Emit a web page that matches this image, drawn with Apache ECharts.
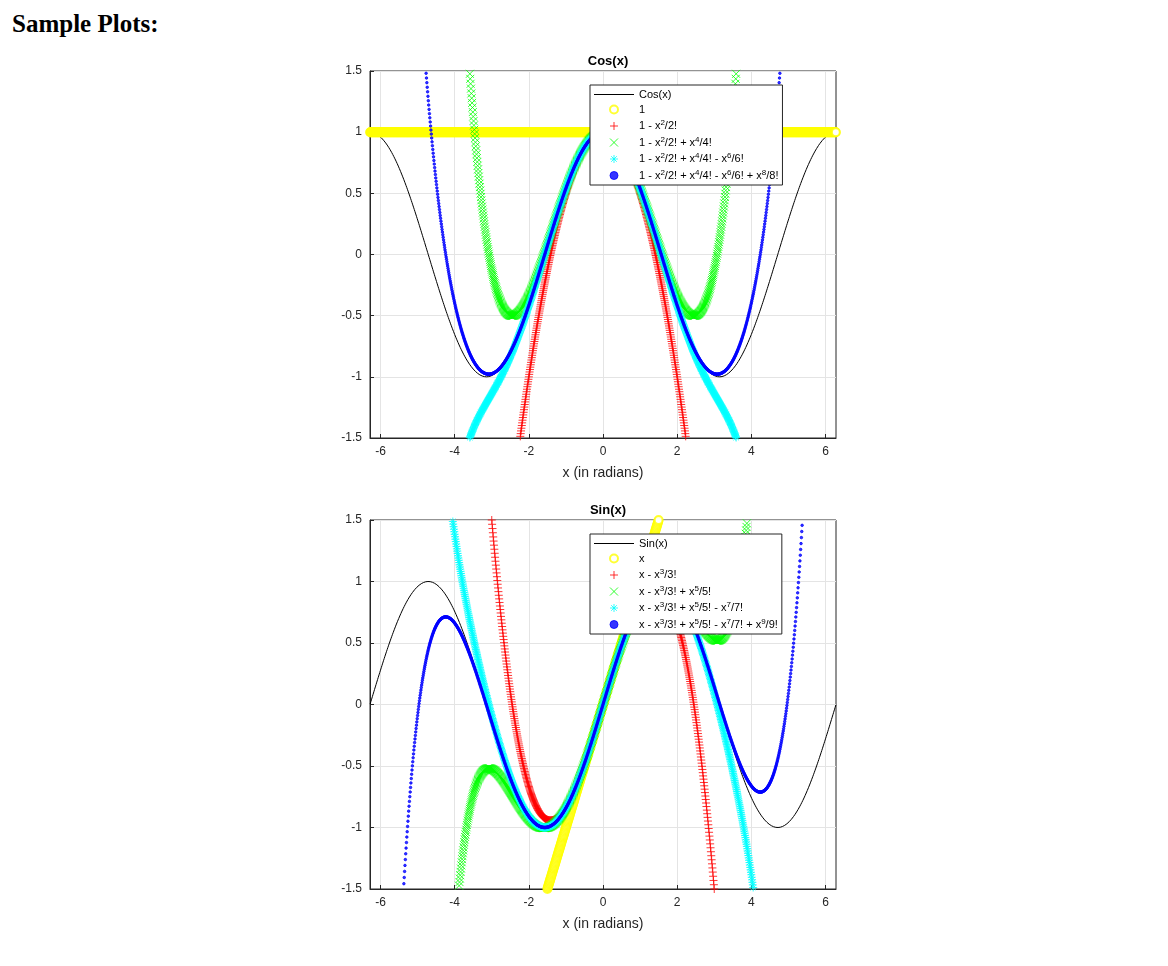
<!DOCTYPE html>
<html><head><meta charset="utf-8">
<script src="https://cdn.jsdelivr.net/npm/echarts@6/dist/echarts.min.js"></script>
<style>body{margin:0;background:#fff}#t{position:absolute;left:12px;top:10px;font:bold 25px "Liberation Serif",serif}#c{width:1168px;height:966px}</style>
</head><body><div id="t">Sample Plots:</div><div id="c"></div>
<script>
const xTicks=[-6,-4,-2,0,2,4,6];
const yTicks=[-1.5,-1,-0.5,0,0.5,1,1.5];
const cosNames=['Cos(x)','1','1 - x^2/2!','1 - x^2/2! + x^4/4!','1 - x^2/2! + x^4/4! - x^6/6!','1 - x^2/2! + x^4/4! - x^6/6! + x^8/8!'];
const sinNames=['Sin(x)','x','x - x^3/3!','x - x^3/3! + x^5/5!','x - x^3/3! + x^5/5! - x^7/7!','x - x^3/3! + x^5/5! - x^7/7! + x^9/9!'];
const cosCoef=[1,0,-1/2,0,1/24,0,-1/720,0,1/40320];
const sinCoef=[0,1,0,-1/6,0,1/120,0,-1/5040,0,1/362880];
const colors=['#000000','#ffff00','#ff0000','#00ff00','#00ffff','#0000ff'];
const xs=[];for(let i=-628;i<=628;i++)xs.push(i/100);
function poly(c,n,x){let s=0;for(let k=0;k<=n;k++)s+=c[k]*Math.pow(x,k);return s;}
const cosSeries=[xs.map(x=>[x,Math.cos(x)])];for(let n of[0,2,4,6,8])cosSeries.push(xs.map(x=>[x,poly(cosCoef,n,x)]));
const sinSeries=[xs.map(x=>[x,Math.sin(x)])];for(let n of[1,3,5,7,9])sinSeries.push(xs.map(x=>[x,poly(sinCoef,n,x)]));
const PLUS='path://M5,0L5,10M0,5L10,5',CROSS='path://M0,0L10,10M0,10L10,0',STAR='path://M5,0L5,10M0,5L10,5M1.5,1.5L8.5,8.5M1.5,8.5L8.5,1.5';
const LINE='path://M0,0L40,0L40,1L0,1Z';
const syms=[null,'emptyCircle',PLUS,CROSS,STAR,'circle'];
const sizes=[0,8,8,8,8,2.5];
function fmt(n){return n.replace(/\^(\d)/g,'{sup|$1}');}
function mk(names,data,gi){
 return data.map((d,i)=>i==0?{type:'line',name:names[i],xAxisIndex:gi,yAxisIndex:gi,data:d,showSymbol:false,lineStyle:{color:'#000',width:1},itemStyle:{color:'#000'},animation:false,z:1}:
 {type:'scatter',name:names[i],xAxisIndex:gi,yAxisIndex:gi,data:d,symbol:syms[i],symbolSize:sizes[i],clip:true,animation:false,large:false,
  itemStyle:i==5||i==1?{color:colors[i],borderColor:colors[i],borderWidth:1}:{color:colors[i],borderColor:colors[i],borderWidth:1},z:2});
}
function ax(gi){return{
 x:{type:'value',gridIndex:gi,min:-6.2832,max:6.2832,name:'x (in radians)',nameLocation:'middle',nameGap:28,nameTextStyle:{fontSize:14,color:'#262626',fontFamily:'Arial'},
  axisLine:{onZero:false,lineStyle:{color:'#262626'}},axisTick:{customValues:xTicks,inside:true,length:4},axisLabel:{customValues:xTicks,color:'#262626',fontSize:12,fontFamily:'Arial'},splitLine:{show:true,customValues:xTicks,lineStyle:{color:'#e4e4e4'}}},
 y:{type:'value',gridIndex:gi,min:-1.5,max:1.5,interval:0.5,axisLine:{show:true,onZero:false,lineStyle:{color:'#262626'}},axisTick:{show:true,inside:true,length:4},axisLabel:{color:'#262626',fontSize:12,fontFamily:'Arial',formatter:v=>String(v)},splitLine:{lineStyle:{color:'#e4e4e4'}}}};}
const a0=ax(0),a1=ax(1);
function leg(names,top){return{top:top,left:590,width:232,orient:'vertical',itemGap:4,itemWidth:40,itemHeight:8,backgroundColor:'#fff',borderColor:'#262626',borderWidth:1,padding:[4,4,4,4],
 data:names.map((n,i)=>({name:n,icon:i==0?LINE:(i==5?'circle':syms[i]),itemStyle:i==0?{color:'#000'}:{color:colors[i],borderColor:colors[i],borderWidth:1}})),
 formatter:fmt,textStyle:{fontSize:11,fontFamily:'Arial',color:'#000',rich:{sup:{fontSize:8,verticalAlign:'top',padding:[0,0,6,0]}}}};}
const chart=echarts.init(document.getElementById('c'));
chart.setOption({animation:false,
 title:[{text:'Cos(x)',left:603,textAlign:'center',top:50,textStyle:{fontSize:13,fontFamily:'Arial',fontWeight:'bold',color:'#000'}},{text:'Sin(x)',left:603,textAlign:'center',top:499,textStyle:{fontSize:13,fontFamily:'Arial',fontWeight:'bold',color:'#000'}}],
 grid:[{left:370,top:71,width:466,height:367,show:true,borderColor:'#262626',backgroundColor:'transparent'},{left:370,top:520,width:466,height:369,show:true,borderColor:'#262626',backgroundColor:'transparent'}],
 xAxis:[a0.x,a1.x],yAxis:[a0.y,a1.y],
 legend:[leg(cosNames,85),leg(sinNames,534)],
 series:[...mk(cosNames,cosSeries,0),...mk(sinNames,sinSeries,1)]});
</script></body></html>
